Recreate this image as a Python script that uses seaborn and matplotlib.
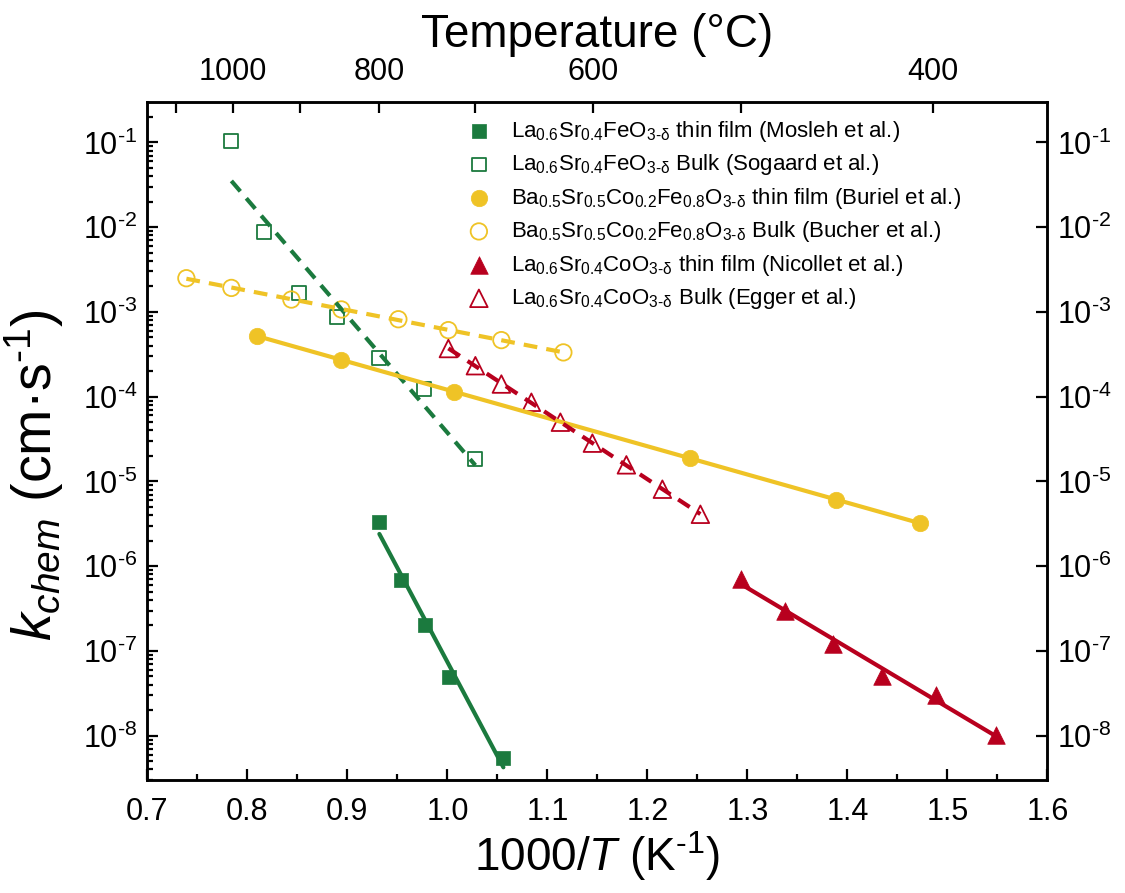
import numpy as np
import matplotlib
matplotlib.use("Agg")
import matplotlib.pyplot as plt
import seaborn as sns
from matplotlib.ticker import MultipleLocator, FixedLocator, FuncFormatter, NullFormatter

# data: x = 1000/T (K^-1), y = k_chem (cm/s)
lsf_film_x = [0.932, 0.954, 0.978, 1.002, 1.056]
lsf_film_k = [3.3e-6, 6.8e-7, 2.05e-7, 4.9e-8, 5.4e-9]

lsf_bulk_x = [0.784, 0.817, 0.852, 0.890, 0.932, 0.977, 1.028]
lsf_bulk_k = [0.105, 8.7e-3, 1.69e-3, 8.7e-4, 2.83e-4, 1.22e-4, 1.84e-5]

bscf_film_x = [0.810, 0.894, 1.007, 1.243, 1.389, 1.473]
bscf_film_k = [5.2e-4, 2.7e-4, 1.15e-4, 1.88e-5, 6.0e-6, 3.24e-6]

bscf_bulk_x = [0.739, 0.784, 0.844, 0.894, 0.951, 1.001, 1.054, 1.116]
bscf_bulk_k = [2.5e-3, 1.92e-3, 1.40e-3, 1.07e-3, 8.2e-4, 6.1e-4, 4.65e-4, 3.33e-4]

lsc_film_x = [1.294, 1.338, 1.386, 1.435, 1.489, 1.549]
lsc_film_k = [7.1e-7, 2.96e-7, 1.20e-7, 5.1e-8, 3.0e-8, 1.03e-8]

lsc_bulk_x = [1.001, 1.028, 1.054, 1.084, 1.113, 1.145, 1.179, 1.215, 1.253]
lsc_bulk_k = [3.7e-4, 2.32e-4, 1.41e-4, 8.6e-5, 5.0e-5, 2.83e-5, 1.57e-5, 8.1e-6, 4.1e-6]

temps_major = [1000, 800, 600, 400]
temps_minor = [1100, 900, 700, 500]
decades = list(range(-8, 0))

green = "#1b7a3e"
yellow = "#efc326"
red = "#b8001e"

labels = [
    r"La$_{0.6}$Sr$_{0.4}$FeO$_{3\text{-}\delta}$ thin film (Mosleh et al.)",
    r"La$_{0.6}$Sr$_{0.4}$FeO$_{3\text{-}\delta}$ Bulk (Sogaard et al.)",
    r"Ba$_{0.5}$Sr$_{0.5}$Co$_{0.2}$Fe$_{0.8}$O$_{3\text{-}\delta}$ thin film (Buriel et al.)",
    r"Ba$_{0.5}$Sr$_{0.5}$Co$_{0.2}$Fe$_{0.8}$O$_{3\text{-}\delta}$ Bulk (Bucher et al.)",
    r"La$_{0.6}$Sr$_{0.4}$CoO$_{3\text{-}\delta}$ thin film (Nicollet et al.)",
    r"La$_{0.6}$Sr$_{0.4}$CoO$_{3\text{-}\delta}$ Bulk (Egger et al.)",
]

sns.set_theme(style="ticks")
plt.rcParams["font.family"] = ["Liberation Sans", "DejaVu Sans"]
plt.rcParams["mathtext.fontset"] = "custom"
plt.rcParams["mathtext.rm"] = "Liberation Sans"
plt.rcParams["mathtext.it"] = "Liberation Sans:italic"
plt.rcParams["mathtext.default"] = "regular"
plt.rcParams["text.color"] = "black"
plt.rcParams["axes.labelcolor"] = "black"
plt.rcParams["xtick.color"] = "black"
plt.rcParams["ytick.color"] = "black"
plt.rcParams["axes.edgecolor"] = "black"

fig = plt.figure(figsize=(11.25, 8.93), dpi=100)
ax = fig.add_axes([0.131, 0.1265, 0.8, 0.7593])

series = [
    (lsf_film_x, lsf_film_k, "s", green, True, "-", 100),
    (lsf_bulk_x, lsf_bulk_k, "s", green, False, "--", 100),
    (bscf_film_x, bscf_film_k, "o", yellow, True, "-", 140),
    (bscf_bulk_x, bscf_bulk_k, "o", yellow, False, "--", 140),
    (lsc_film_x, lsc_film_k, "^", red, True, "-", 160),
    (lsc_bulk_x, lsc_bulk_k, "^", red, False, "--", 160),
]

for (x, k, m, c, filled, ls, s), lab in zip(series, labels):
    if filled:
        sns.scatterplot(x=x, y=k, marker=m, s=s, color=c, edgecolor=c,
                        linewidth=0.5, ax=ax, label=lab, zorder=3)
    else:
        sns.scatterplot(x=x, y=k, marker=m, s=s, facecolor="none", edgecolor=c,
                        linewidth=1.3, ax=ax, label=lab, zorder=3)
    # Arrhenius fit in log space over the data range
    p = np.polyfit(x, np.log10(k), 1)
    xf = np.array([min(x), max(x)])
    line, = ax.plot(xf, 10 ** np.polyval(p, xf), color=c, lw=3, zorder=4)
    if ls == "--":
        line.set_dashes((3.3, 2.2))

ax.set_yscale("log")
ax.set_xlim(0.7, 1.6)
ax.set_ylim(3e-9, 3e-1)
ax.xaxis.set_major_locator(MultipleLocator(0.1))
ax.xaxis.set_minor_locator(MultipleLocator(0.05))
ax.xaxis.set_major_formatter(FuncFormatter(lambda v, pos: f"{v:.1f}"))
ax.yaxis.set_major_locator(FixedLocator([10.0 ** e for e in decades]))
minor_y = [m * 10.0 ** e for e in range(-9, 0) for m in range(2, 10)]
ax.yaxis.set_minor_locator(FixedLocator([v for v in minor_y if 3e-9 <= v <= 3e-1]))
ax.yaxis.set_major_formatter(
    FuncFormatter(lambda v, pos: r"10$^{\text{-}%d}$" % round(-np.log10(v))))
ax.yaxis.set_minor_formatter(NullFormatter())

ax.tick_params(axis="both", which="both", direction="in", width=1.6, labelsize=22)
ax.tick_params(axis="both", which="major", length=8)
ax.tick_params(axis="both", which="minor", length=4)
ax.tick_params(axis="x", top=False, pad=12)
ax.tick_params(axis="y", left=True, right=True, labelleft=True, labelright=True, pad=7)
for sp in ax.spines.values():
    sp.set_linewidth(1.8)

ax.set_xlabel(r"1000/$\mathit{T}$ (K$^{\text{-}1}$)", fontsize=33, labelpad=2)
ax.set_ylabel(r"$\mathit{k_{chem}}$ (cm·s$^{\text{-}1}$)", fontsize=40, labelpad=2)
ax.yaxis.set_label_coords(-0.09, 0.45)

ax2 = ax.twiny()
ax2.set_xlim(ax.get_xlim())
ax2.xaxis.set_major_locator(FixedLocator([1000 / (t + 273.15) for t in temps_major]))
ax2.xaxis.set_minor_locator(FixedLocator([1000 / (t + 273.15) for t in temps_minor]))
ax2.set_xticklabels([str(t) for t in temps_major])
ax2.tick_params(axis="x", which="both", direction="in", width=1.6, labelsize=22, pad=11)
ax2.tick_params(axis="x", which="major", length=8)
ax2.tick_params(axis="x", which="minor", length=8)
ax2.set_xlabel("Temperature (°C)", fontsize=33, labelpad=7)
for sp in ax2.spines.values():
    sp.set_linewidth(1.8)

leg = ax.legend(loc="upper left", bbox_to_anchor=(0.356, 0.975), frameon=False,
                fontsize=16, borderpad=0, handlelength=1.0, handletextpad=0.95,
                labelspacing=0.38, borderaxespad=0)

fig.savefig("out.png", dpi=100)
